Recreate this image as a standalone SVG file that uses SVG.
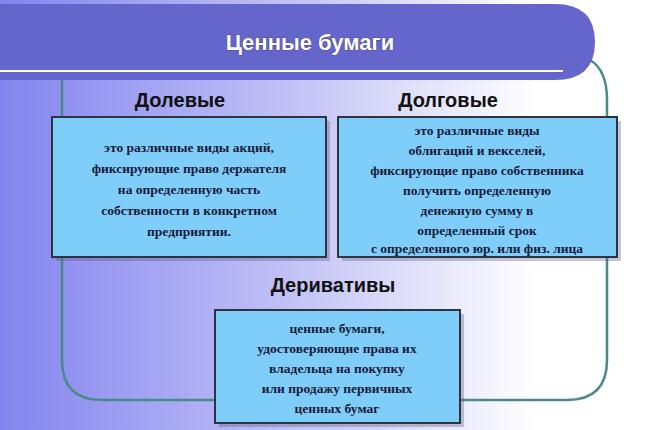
<svg xmlns="http://www.w3.org/2000/svg" width="670" height="430" viewBox="0 0 670 430">
<defs>
<linearGradient id="bg" x1="0" y1="0" x2="1" y2="0"><stop offset="0" stop-color="#8384ef"/><stop offset="0.45" stop-color="#c4c4f6"/><stop offset="0.8" stop-color="#ffffff"/></linearGradient>
<style>
.box{fill:#7fcdf9;stroke:#2b3440;stroke-width:2}
.sh{fill:#5a5a80;opacity:.35}
.t{font-family:"Liberation Serif",serif;font-weight:bold;font-size:13.5px;fill:#1a1a3a;text-anchor:middle}
.h{font-family:"Liberation Sans",sans-serif;font-weight:bold;font-size:20px;fill:#111;text-anchor:middle}
</style>
</defs>
<rect width="670" height="430" fill="url(#bg)"/>
<g id="frame"><path d="M62 80 V360 Q62 400 102 400 H567 Q607 400 607 360 V100 Q607 70 590 60" fill="none" stroke="#4a8a8a" stroke-width="2.5"/></g>
<g id="title">
<path d="M0 4 H555 Q595 4 595 42 Q595 80 555 80 H0 Z" fill="#6566cc"/>
<line x1="0" y1="71" x2="563" y2="71" stroke="#fff" stroke-width="2"/>
<text x="310" y="50" font-family="Liberation Sans,sans-serif" font-weight="bold" font-size="22" fill="#fff" text-anchor="middle" stroke="#333" stroke-width="0.6" paint-order="stroke">Ценные бумаги</text>
</g>
<g id="dolevye">
<text class="h" x="180" y="107">Долевые</text>
<rect class="sh" x="56" y="121" width="274" height="140"/>
<rect class="box" x="52" y="117" width="274" height="140"/>
<text class="t" x="189" y="152">это различные виды акций,</text>
<text class="t" x="189" y="173">фиксирующие право держателя</text>
<text class="t" x="189" y="194">на определенную часть</text>
<text class="t" x="189" y="215">собственности в конкретном</text>
<text class="t" x="189" y="236">предприятии.</text>
</g>
<g id="dolgovye">
<text class="h" x="448" y="107">Долговые</text>
<rect class="sh" x="342" y="121" width="279" height="140"/>
<rect class="box" x="338" y="117" width="279" height="140"/>
<text class="t" x="477" y="135">это различные виды</text>
<text class="t" x="477" y="155">облигаций и векселей,</text>
<text class="t" x="477" y="175">фиксирующие право собственника</text>
<text class="t" x="477" y="195">получить определенную</text>
<text class="t" x="477" y="215">денежную сумму в</text>
<text class="t" x="477" y="235">определенный срок</text>
<text class="t" x="477" y="253">с определенного юр. или физ. лица</text>
</g>
<g id="derivativy">
<text class="h" x="333" y="292">Деривативы</text>
<rect class="sh" x="219" y="314" width="245" height="113"/>
<rect class="box" x="215" y="310" width="245" height="113"/>
<text class="t" x="337" y="333">ценные бумаги,</text>
<text class="t" x="337" y="353">удостоверяющие права их</text>
<text class="t" x="337" y="373">владельца на покупку</text>
<text class="t" x="337" y="393">или продажу первичных</text>
<text class="t" x="337" y="413">ценных бумаг</text>
</g>
<g id="connectors"/>
</svg>
